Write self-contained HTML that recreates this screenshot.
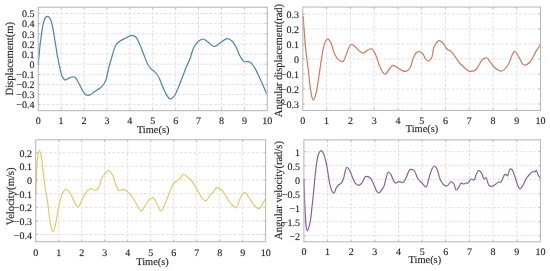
<!DOCTYPE html><html><head><meta charset="utf-8"><style>html,body{margin:0;padding:0;background:#fff;width:550px;height:271px;overflow:hidden}svg{display:block}text{text-rendering:geometricPrecision;stroke:#262626;stroke-width:0.3px;stroke-opacity:0.45}</style></head><body>
<svg width="550" height="271" viewBox="0 0 550 271" font-family='"Liberation Serif", "Times New Roman", serif'>
<rect width="550" height="271" fill="#fff"/>
<path d="M61.11,7.20V110.70M84.02,7.20V110.70M106.93,7.20V110.70M129.84,7.20V110.70M152.75,7.20V110.70M175.66,7.20V110.70M198.57,7.20V110.70M221.48,7.20V110.70M244.39,7.20V110.70M38.20,13.55H267.30M38.20,23.68H267.30M38.20,33.81H267.30M38.20,43.94H267.30M38.20,54.07H267.30M38.20,64.20H267.30M38.20,74.33H267.30M38.20,84.46H267.30M38.20,94.59H267.30M38.20,104.72H267.30" stroke="#e0e0e0" stroke-width="1" stroke-dasharray="2.9,1.6" fill="none"/>
<path d="M61.11,110.70v-2M61.11,7.20v2M84.02,110.70v-2M84.02,7.20v2M106.93,110.70v-2M106.93,7.20v2M129.84,110.70v-2M129.84,7.20v2M152.75,110.70v-2M152.75,7.20v2M175.66,110.70v-2M175.66,7.20v2M198.57,110.70v-2M198.57,7.20v2M221.48,110.70v-2M221.48,7.20v2M244.39,110.70v-2M244.39,7.20v2M38.20,13.55h2M267.30,13.55h-2M38.20,23.68h2M267.30,23.68h-2M38.20,33.81h2M267.30,33.81h-2M38.20,43.94h2M267.30,43.94h-2M38.20,54.07h2M267.30,54.07h-2M38.20,64.20h2M267.30,64.20h-2M38.20,74.33h2M267.30,74.33h-2M38.20,84.46h2M267.30,84.46h-2M38.20,94.59h2M267.30,94.59h-2M38.20,104.72h2M267.30,104.72h-2" stroke="#b4b4b4" stroke-width="0.8" fill="none"/>
<path d="M38.30,64.30 C38.73,59.33 39.10,54.19 39.60,49.40 C40.07,44.91 40.60,40.62 41.20,36.40 C41.77,32.37 42.26,28.01 43.10,24.60 C43.77,21.90 44.38,18.80 45.50,17.50 C46.16,16.73 47.06,16.19 47.80,16.30 C48.64,16.43 49.52,17.54 50.20,18.70 C51.29,20.55 51.88,23.85 52.60,27.00 C53.53,31.04 54.22,36.31 55.00,41.00 C55.79,45.74 56.48,50.76 57.30,55.30 C58.05,59.46 58.85,63.54 59.70,67.20 C60.43,70.37 60.90,73.72 62.00,76.00 C62.82,77.69 63.87,79.72 65.00,80.00 C65.92,80.23 66.92,79.07 68.00,78.60 C69.23,78.07 70.74,77.20 72.00,77.00 C73.05,76.83 74.16,76.74 75.00,77.20 C75.93,77.71 76.51,79.09 77.20,80.20 C77.98,81.46 78.59,82.84 79.40,84.40 C80.41,86.35 81.64,89.21 82.80,91.00 C83.69,92.37 84.54,93.71 85.50,94.40 C86.20,94.91 86.91,95.15 87.70,95.20 C88.57,95.26 89.58,95.02 90.50,94.60 C91.61,94.09 92.69,92.89 93.80,92.10 C94.89,91.33 95.99,90.63 97.10,89.90 C98.22,89.16 99.47,88.53 100.50,87.70 C101.50,86.89 102.39,86.04 103.20,85.00 C104.08,83.87 104.87,82.56 105.50,81.10 C106.21,79.44 106.65,77.37 107.10,75.50 C107.54,73.67 107.70,72.09 108.20,70.00 C108.88,67.15 109.88,63.66 111.00,60.00 C112.38,55.49 113.98,48.27 116.00,45.00 C117.21,43.05 118.43,42.13 120.00,41.00 C121.71,39.76 124.04,38.95 126.00,38.00 C127.87,37.09 129.75,35.45 131.50,35.40 C133.06,35.35 134.73,36.04 136.00,37.20 C137.66,38.71 138.60,41.97 139.80,44.60 C141.11,47.47 142.28,50.73 143.50,53.80 C144.72,56.86 145.74,60.37 147.10,63.00 C148.22,65.17 149.44,67.10 150.80,68.60 C151.94,69.86 153.37,70.52 154.50,71.60 C155.60,72.66 156.62,73.69 157.50,75.00 C158.48,76.45 159.15,78.11 160.00,80.00 C161.07,82.38 162.15,85.62 163.30,88.20 C164.36,90.57 165.37,93.00 166.60,94.90 C167.64,96.50 168.76,98.73 170.00,99.00 C171.03,99.22 172.32,98.32 173.30,97.40 C174.62,96.16 175.56,93.74 176.60,91.60 C177.81,89.12 178.90,86.07 180.00,83.30 C181.10,80.54 182.12,77.77 183.20,75.00 C184.29,72.21 185.36,69.32 186.50,66.60 C187.60,63.99 188.78,61.85 189.90,59.00 C191.28,55.48 192.21,50.19 194.00,47.00 C195.41,44.50 197.28,42.36 199.00,41.00 C200.30,39.97 201.61,38.95 203.00,39.00 C204.59,39.06 206.29,40.85 208.00,42.00 C209.94,43.31 211.96,46.38 214.00,46.50 C215.96,46.61 217.93,44.25 220.00,43.00 C222.25,41.63 224.83,38.72 227.00,38.60 C228.78,38.50 230.57,39.75 232.00,41.00 C233.64,42.42 234.76,44.74 236.00,47.00 C237.45,49.64 238.51,53.45 240.00,56.00 C241.23,58.11 242.27,60.42 244.00,61.40 C245.64,62.33 248.31,61.09 250.00,62.00 C251.82,62.98 252.94,65.15 254.40,67.40 C256.42,70.53 258.46,75.26 260.40,79.40 C262.43,83.74 264.33,88.40 266.30,92.90" stroke="#4686ab" stroke-width="1.2" fill="none" stroke-linejoin="round" stroke-linecap="round"/>
<rect x="38.20" y="7.20" width="229.10" height="103.50" stroke="#b4b4b4" stroke-width="1" fill="none"/>
<g font-size="10" fill="#262626"><text x="38.20" y="124.20" text-anchor="middle">0</text><text x="61.11" y="124.20" text-anchor="middle">1</text><text x="84.02" y="124.20" text-anchor="middle">2</text><text x="106.93" y="124.20" text-anchor="middle">3</text><text x="129.84" y="124.20" text-anchor="middle">4</text><text x="152.75" y="124.20" text-anchor="middle">5</text><text x="175.66" y="124.20" text-anchor="middle">6</text><text x="198.57" y="124.20" text-anchor="middle">7</text><text x="221.48" y="124.20" text-anchor="middle">8</text><text x="244.39" y="124.20" text-anchor="middle">9</text><text x="267.30" y="124.20" text-anchor="middle">10</text><text x="34.40" y="17.25" text-anchor="end">0.5</text><text x="34.40" y="27.38" text-anchor="end">0.4</text><text x="34.40" y="37.51" text-anchor="end">0.3</text><text x="34.40" y="47.64" text-anchor="end">0.2</text><text x="34.40" y="57.77" text-anchor="end">0.1</text><text x="34.40" y="67.90" text-anchor="end">0</text><text x="34.40" y="78.03" text-anchor="end">−0.1</text><text x="34.40" y="88.16" text-anchor="end">−0.2</text><text x="34.40" y="98.29" text-anchor="end">−0.3</text><text x="34.40" y="108.42" text-anchor="end">−0.4</text></g>
<text x="153.15" y="133.10" font-size="10.4" text-anchor="middle" fill="#262626">Time(s)</text>
<text transform="translate(13.00,58.75) rotate(-90) scale(0.955,1)" x="0" y="0" font-size="11.10" text-anchor="middle" fill="#262626">Displacement(m)</text>
<path d="M326.62,7.05V110.40M350.39,7.05V110.40M374.16,7.05V110.40M397.93,7.05V110.40M421.70,7.05V110.40M445.47,7.05V110.40M469.24,7.05V110.40M493.01,7.05V110.40M516.78,7.05V110.40M302.85,14.00H540.55M302.85,29.00H540.55M302.85,44.00H540.55M302.85,59.00H540.55M302.85,74.00H540.55M302.85,89.00H540.55M302.85,104.00H540.55" stroke="#e0e0e0" stroke-width="1" stroke-dasharray="2.9,1.6" fill="none"/>
<path d="M326.62,110.40v-2M326.62,7.05v2M350.39,110.40v-2M350.39,7.05v2M374.16,110.40v-2M374.16,7.05v2M397.93,110.40v-2M397.93,7.05v2M421.70,110.40v-2M421.70,7.05v2M445.47,110.40v-2M445.47,7.05v2M469.24,110.40v-2M469.24,7.05v2M493.01,110.40v-2M493.01,7.05v2M516.78,110.40v-2M516.78,7.05v2M302.85,14.00h2M540.55,14.00h-2M302.85,29.00h2M540.55,29.00h-2M302.85,44.00h2M540.55,44.00h-2M302.85,59.00h2M540.55,59.00h-2M302.85,74.00h2M540.55,74.00h-2M302.85,89.00h2M540.55,89.00h-2M302.85,104.00h2M540.55,104.00h-2" stroke="#b4b4b4" stroke-width="0.8" fill="none"/>
<path d="M303.20,16.50 C303.43,19.87 303.66,23.15 303.90,26.60 C304.16,30.21 304.38,33.86 304.70,37.70 C305.04,41.84 305.48,46.64 305.90,50.60 C306.26,53.98 306.60,56.84 307.00,60.00 C307.40,63.23 307.85,66.10 308.30,69.80 C308.88,74.61 309.40,81.44 310.10,86.40 C310.67,90.45 311.24,94.97 312.00,97.40 C312.40,98.68 312.81,100.21 313.30,100.20 C313.99,100.19 314.99,97.06 315.70,94.70 C316.86,90.86 317.66,84.16 318.50,79.00 C319.32,74.00 320.05,68.55 320.70,64.20 C321.22,60.77 321.51,58.20 322.10,55.00 C322.75,51.46 323.33,46.80 324.50,43.90 C325.34,41.82 326.49,38.98 327.60,38.90 C328.66,38.83 330.00,41.18 331.00,43.00 C332.48,45.68 333.16,51.02 334.60,54.00 C335.70,56.27 336.76,58.36 338.30,59.60 C339.64,60.67 341.79,61.88 343.00,61.40 C344.33,60.88 344.84,57.89 345.70,55.90 C346.68,53.64 347.45,50.56 348.50,48.50 C349.33,46.88 350.07,44.67 351.20,44.40 C352.26,44.15 353.74,45.63 355.00,46.60 C356.54,47.78 358.06,50.08 359.60,51.20 C360.83,52.10 362.02,53.18 363.30,53.10 C364.77,53.01 366.40,50.73 367.90,50.00 C369.16,49.39 370.49,48.43 371.60,48.80 C373.03,49.27 374.19,51.89 375.30,54.00 C376.75,56.75 377.71,61.04 379.00,64.20 C380.15,67.03 381.24,70.37 382.60,72.10 C383.47,73.21 384.47,74.42 385.40,74.30 C386.61,74.14 387.72,71.00 389.00,69.50 C390.25,68.04 391.49,65.64 393.00,65.40 C394.50,65.16 396.44,67.11 398.00,68.00 C399.42,68.81 400.62,69.93 402.00,70.50 C403.29,71.03 404.74,71.71 406.00,71.40 C407.43,71.05 408.92,69.60 410.00,68.00 C411.45,65.85 411.90,61.66 413.00,59.00 C413.93,56.76 414.75,54.22 416.00,53.00 C416.88,52.15 417.94,51.55 419.00,51.60 C420.25,51.67 422.00,52.92 423.00,54.00 C423.98,55.06 424.15,56.82 425.00,58.00 C425.83,59.15 426.93,60.95 428.00,61.00 C429.12,61.05 430.67,59.54 431.60,58.00 C433.04,55.62 432.57,50.04 434.00,47.00 C435.21,44.42 437.28,40.92 439.00,40.60 C440.30,40.36 441.78,41.84 443.00,43.00 C444.51,44.44 445.49,47.56 447.00,49.00 C448.22,50.16 449.83,50.40 451.00,51.40 C452.17,52.40 453.13,53.83 454.00,55.00 C454.77,56.02 455.21,56.86 456.00,58.00 C457.09,59.57 458.49,61.83 460.00,63.50 C461.50,65.16 463.41,66.65 465.00,68.00 C466.39,69.18 467.43,70.78 469.00,71.20 C470.71,71.66 473.35,71.28 475.00,70.30 C476.72,69.28 477.76,66.81 479.00,65.00 C480.22,63.21 480.92,60.66 482.40,59.50 C483.68,58.50 485.74,57.60 487.00,58.00 C488.28,58.40 488.92,60.60 490.00,62.00 C491.23,63.58 492.57,65.62 494.00,67.00 C495.26,68.22 496.60,69.33 498.00,70.00 C499.28,70.61 500.64,71.38 502.00,71.00 C503.95,70.46 506.16,67.60 508.00,65.00 C510.45,61.53 512.36,51.61 514.50,51.40 C516.01,51.25 517.49,55.26 519.00,57.40 C520.66,59.76 521.98,64.46 524.00,65.00 C525.74,65.47 528.22,63.69 530.00,62.00 C532.40,59.72 534.10,54.53 536.00,51.40 C537.57,48.83 539.00,46.80 540.50,44.50" stroke="#d27a58" stroke-width="1.2" fill="none" stroke-linejoin="round" stroke-linecap="round"/>
<rect x="302.85" y="7.05" width="237.70" height="103.35" stroke="#b4b4b4" stroke-width="1" fill="none"/>
<g font-size="10" fill="#262626"><text x="302.85" y="123.90" text-anchor="middle">0</text><text x="326.62" y="123.90" text-anchor="middle">1</text><text x="350.39" y="123.90" text-anchor="middle">2</text><text x="374.16" y="123.90" text-anchor="middle">3</text><text x="397.93" y="123.90" text-anchor="middle">4</text><text x="421.70" y="123.90" text-anchor="middle">5</text><text x="445.47" y="123.90" text-anchor="middle">6</text><text x="469.24" y="123.90" text-anchor="middle">7</text><text x="493.01" y="123.90" text-anchor="middle">8</text><text x="516.78" y="123.90" text-anchor="middle">9</text><text x="540.55" y="123.90" text-anchor="middle">10</text><text x="299.05" y="17.90" text-anchor="end">0.3</text><text x="299.05" y="32.90" text-anchor="end">0.2</text><text x="299.05" y="47.90" text-anchor="end">0.1</text><text x="299.05" y="62.90" text-anchor="end">0</text><text x="299.05" y="77.90" text-anchor="end">−0.1</text><text x="299.05" y="92.90" text-anchor="end">−0.2</text><text x="299.05" y="107.90" text-anchor="end">−0.3</text></g>
<text x="422.00" y="132.30" font-size="10.4" text-anchor="middle" fill="#262626">Time(s)</text>
<text transform="translate(282.30,60.55) rotate(-90) scale(0.955,1)" x="0" y="0" font-size="11.05" text-anchor="middle" fill="#262626">Angular displacement(rad)</text>
<path d="M58.74,139.80V241.70M81.73,139.80V241.70M104.72,139.80V241.70M127.71,139.80V241.70M150.70,139.80V241.70M173.69,139.80V241.70M196.68,139.80V241.70M219.67,139.80V241.70M242.66,139.80V241.70M35.75,152.72H265.65M35.75,166.36H265.65M35.75,180.00H265.65M35.75,193.64H265.65M35.75,207.28H265.65M35.75,220.92H265.65M35.75,234.56H265.65" stroke="#e0e0e0" stroke-width="1" stroke-dasharray="2.9,1.6" fill="none"/>
<path d="M58.74,241.70v-2M58.74,139.80v2M81.73,241.70v-2M81.73,139.80v2M104.72,241.70v-2M104.72,139.80v2M127.71,241.70v-2M127.71,139.80v2M150.70,241.70v-2M150.70,139.80v2M173.69,241.70v-2M173.69,139.80v2M196.68,241.70v-2M196.68,139.80v2M219.67,241.70v-2M219.67,139.80v2M242.66,241.70v-2M242.66,139.80v2M35.75,152.72h2M265.65,152.72h-2M35.75,166.36h2M265.65,166.36h-2M35.75,180.00h2M265.65,180.00h-2M35.75,193.64h2M265.65,193.64h-2M35.75,207.28h2M265.65,207.28h-2M35.75,220.92h2M265.65,220.92h-2M35.75,234.56h2M265.65,234.56h-2" stroke="#b4b4b4" stroke-width="0.8" fill="none"/>
<path d="M35.75,193.00 C35.90,189.00 36.03,185.08 36.20,181.00 C36.38,176.75 36.53,172.15 36.80,168.00 C37.04,164.18 37.17,160.20 37.70,157.00 C38.12,154.47 38.79,150.31 39.40,150.30 C39.99,150.29 40.76,154.03 41.30,156.60 C42.11,160.47 42.48,166.48 43.10,171.40 C43.71,176.28 44.25,180.82 45.00,186.00 C45.85,191.92 47.08,198.58 48.00,205.00 C48.95,211.57 49.45,220.09 50.60,225.00 C51.30,227.98 52.20,232.00 53.00,232.00 C53.80,232.00 54.63,227.97 55.40,225.00 C56.68,220.08 57.62,210.79 59.00,205.00 C60.09,200.46 61.03,195.72 62.60,193.00 C63.59,191.29 64.80,189.45 66.00,189.40 C67.26,189.35 68.80,191.42 70.00,193.00 C71.55,195.04 72.59,198.56 74.00,201.00 C75.27,203.19 76.70,207.04 78.00,207.00 C79.37,206.95 80.60,202.48 82.00,200.00 C83.58,197.19 85.15,192.92 87.00,191.00 C88.25,189.71 89.65,188.65 91.00,188.60 C92.32,188.55 93.72,190.77 95.00,190.60 C96.40,190.41 98.02,188.57 99.00,187.00 C100.14,185.17 100.10,182.08 101.00,180.00 C101.81,178.13 102.77,176.54 104.00,175.00 C105.28,173.39 107.13,170.51 108.60,170.60 C110.14,170.70 111.81,173.84 113.00,176.00 C114.38,178.52 114.88,182.40 116.00,185.00 C116.92,187.13 117.55,189.95 119.00,190.60 C120.30,191.18 122.40,189.09 124.00,189.40 C125.75,189.74 127.51,191.58 129.00,193.00 C130.52,194.44 131.74,196.14 133.00,198.00 C134.42,200.09 135.63,202.78 137.00,205.00 C138.30,207.10 139.62,210.94 141.00,211.00 C142.30,211.06 143.70,207.77 145.00,206.00 C146.38,204.12 147.49,201.44 149.00,200.00 C150.22,198.84 151.79,197.31 153.00,197.60 C154.54,197.97 155.69,201.81 157.00,204.00 C158.36,206.27 159.67,211.00 161.00,211.00 C162.33,211.00 163.75,206.59 165.00,204.00 C166.44,201.01 167.55,197.40 169.00,194.00 C170.54,190.40 171.93,185.46 174.00,183.00 C175.46,181.26 177.46,181.01 179.00,179.60 C180.69,178.06 182.10,174.17 183.60,174.00 C184.75,173.87 185.83,175.66 187.00,176.60 C188.29,177.64 189.76,178.60 191.00,180.00 C192.46,181.64 193.70,183.90 195.00,186.00 C196.37,188.22 197.75,190.87 199.00,193.00 C200.06,194.81 200.80,196.66 202.00,198.00 C203.07,199.19 204.48,200.96 205.70,200.80 C207.25,200.60 208.94,196.44 210.30,194.90 C211.25,193.82 211.97,193.32 212.90,192.30 C214.10,190.99 215.27,187.89 216.80,187.60 C218.31,187.32 220.53,189.15 222.00,190.50 C223.57,191.95 224.43,194.16 225.80,196.20 C227.39,198.58 229.08,201.88 231.00,203.90 C232.60,205.59 234.78,208.19 236.20,207.80 C237.95,207.32 238.53,201.40 240.00,198.70 C241.31,196.30 242.85,192.39 244.40,192.30 C245.86,192.21 247.48,195.54 249.00,197.50 C250.76,199.77 252.33,203.27 254.20,205.20 C255.68,206.73 257.46,208.83 258.90,208.60 C260.53,208.34 262.13,204.42 263.30,202.60 C264.21,201.19 264.77,200.00 265.50,198.70" stroke="#e2c96c" stroke-width="1.2" fill="none" stroke-linejoin="round" stroke-linecap="round"/>
<rect x="35.75" y="139.80" width="229.90" height="101.90" stroke="#b4b4b4" stroke-width="1" fill="none"/>
<g font-size="10" fill="#262626"><text x="35.75" y="256.00" text-anchor="middle">0</text><text x="58.74" y="256.00" text-anchor="middle">1</text><text x="81.73" y="256.00" text-anchor="middle">2</text><text x="104.72" y="256.00" text-anchor="middle">3</text><text x="127.71" y="256.00" text-anchor="middle">4</text><text x="150.70" y="256.00" text-anchor="middle">5</text><text x="173.69" y="256.00" text-anchor="middle">6</text><text x="196.68" y="256.00" text-anchor="middle">7</text><text x="219.67" y="256.00" text-anchor="middle">8</text><text x="242.66" y="256.00" text-anchor="middle">9</text><text x="265.65" y="256.00" text-anchor="middle">10</text><text x="31.95" y="156.72" text-anchor="end">0.2</text><text x="31.95" y="170.36" text-anchor="end">0.1</text><text x="31.95" y="184.00" text-anchor="end">0</text><text x="31.95" y="197.64" text-anchor="end">−0.1</text><text x="31.95" y="211.28" text-anchor="end">−0.2</text><text x="31.95" y="224.92" text-anchor="end">−0.3</text><text x="31.95" y="238.56" text-anchor="end">−0.4</text></g>
<text x="152.50" y="264.70" font-size="10.4" text-anchor="middle" fill="#262626">Time(s)</text>
<text transform="translate(13.60,196.40) rotate(-90) scale(0.955,1)" x="0" y="0" font-size="11.15" text-anchor="middle" fill="#262626">Velocity(m/s)</text>
<path d="M327.55,139.85V241.80M351.20,139.85V241.80M374.85,139.85V241.80M398.50,139.85V241.80M422.15,139.85V241.80M445.80,139.85V241.80M469.45,139.85V241.80M493.10,139.85V241.80M516.75,139.85V241.80M303.90,151.70H540.40M303.90,165.70H540.40M303.90,179.70H540.40M303.90,193.70H540.40M303.90,207.70H540.40M303.90,221.70H540.40M303.90,235.70H540.40" stroke="#e0e0e0" stroke-width="1" stroke-dasharray="2.9,1.6" fill="none"/>
<path d="M327.55,241.80v-2M327.55,139.85v2M351.20,241.80v-2M351.20,139.85v2M374.85,241.80v-2M374.85,139.85v2M398.50,241.80v-2M398.50,139.85v2M422.15,241.80v-2M422.15,139.85v2M445.80,241.80v-2M445.80,139.85v2M469.45,241.80v-2M469.45,139.85v2M493.10,241.80v-2M493.10,139.85v2M516.75,241.80v-2M516.75,139.85v2M303.90,151.70h2M540.40,151.70h-2M303.90,165.70h2M540.40,165.70h-2M303.90,179.70h2M540.40,179.70h-2M303.90,193.70h2M540.40,193.70h-2M303.90,207.70h2M540.40,207.70h-2M303.90,221.70h2M540.40,221.70h-2M303.90,235.70h2M540.40,235.70h-2" stroke="#b4b4b4" stroke-width="0.8" fill="none"/>
<path d="M303.90,179.00 C304.13,186.00 304.34,193.59 304.60,200.00 C304.82,205.42 305.01,210.28 305.30,215.00 C305.56,219.22 305.72,224.13 306.20,227.00 C306.47,228.64 306.76,230.74 307.20,230.80 C307.56,230.85 308.09,229.55 308.50,228.50 C309.24,226.60 309.95,223.15 310.50,220.00 C311.17,216.14 311.52,211.25 312.00,207.00 C312.46,202.92 312.84,199.51 313.30,195.00 C313.89,189.18 314.52,181.07 315.20,175.00 C315.77,169.91 316.25,165.00 317.00,161.00 C317.58,157.94 318.08,154.82 319.00,153.00 C319.57,151.88 320.31,150.64 321.00,150.60 C321.65,150.56 322.42,151.61 323.00,152.50 C323.85,153.79 324.39,155.92 325.00,158.00 C325.76,160.61 326.34,163.59 327.00,167.00 C327.85,171.44 328.57,178.10 329.50,182.40 C330.18,185.55 330.71,188.62 331.70,190.50 C332.33,191.70 333.23,193.19 333.90,193.10 C334.73,192.99 335.31,189.72 336.10,188.30 C336.79,187.07 337.40,185.88 338.30,185.00 C339.15,184.17 340.47,184.01 341.30,183.10 C342.27,182.02 342.87,180.44 343.50,178.70 C344.32,176.43 344.68,172.57 345.40,170.50 C345.86,169.16 346.23,167.42 346.90,167.30 C347.57,167.18 348.63,168.64 349.40,169.80 C350.55,171.54 351.37,174.89 352.40,177.20 C353.34,179.30 354.13,181.70 355.30,183.10 C356.18,184.15 357.28,185.22 358.30,185.30 C359.25,185.37 360.39,184.57 361.20,183.80 C362.13,182.92 362.66,181.32 363.40,180.10 C364.13,178.89 364.62,176.97 365.60,176.50 C366.43,176.11 367.72,176.52 368.60,176.90 C369.45,177.27 370.10,177.83 370.80,178.70 C371.87,180.03 372.84,182.56 373.80,184.60 C374.81,186.72 375.61,189.76 376.70,191.20 C377.38,192.10 378.18,193.05 378.90,193.00 C379.68,192.94 380.44,191.44 381.20,190.50 C382.08,189.41 383.06,188.41 383.80,186.80 C384.90,184.42 385.39,179.89 386.30,177.20 C386.99,175.17 387.62,172.17 388.50,172.00 C389.15,171.87 390.00,173.18 390.70,174.20 C391.78,175.76 392.62,179.34 393.70,180.90 C394.40,181.92 395.08,182.99 395.90,183.10 C396.72,183.21 397.69,181.74 398.60,181.60 C399.43,181.47 400.32,181.96 401.10,182.10 C401.78,182.22 402.38,182.67 403.00,182.40 C404.03,181.95 405.00,179.75 406.00,178.00 C407.33,175.69 408.26,170.47 410.00,169.60 C411.15,169.02 412.85,169.49 414.00,170.40 C415.76,171.78 416.44,176.78 418.00,179.00 C419.20,180.72 420.67,181.67 422.00,183.00 C423.33,184.33 424.91,187.26 426.00,187.00 C427.41,186.67 428.00,181.00 429.00,178.00 C430.00,175.00 430.84,171.13 432.00,169.00 C432.74,167.65 433.57,166.02 434.40,166.00 C435.24,165.98 436.23,167.60 437.00,169.00 C438.25,171.27 438.81,176.30 440.00,179.00 C440.89,181.02 441.72,182.82 443.00,184.00 C444.12,185.04 445.75,186.23 447.00,186.00 C448.44,185.73 449.72,181.70 451.00,181.60 C452.03,181.52 453.21,182.87 454.00,184.00 C455.01,185.45 455.03,189.77 456.00,190.00 C456.80,190.19 458.17,188.15 459.00,187.00 C459.85,185.82 460.09,183.35 461.00,183.00 C461.72,182.72 462.75,184.01 463.60,184.00 C464.42,183.99 465.22,183.16 466.00,183.00 C466.68,182.86 467.35,183.33 468.00,183.00 C469.03,182.48 469.86,179.36 471.00,179.00 C471.91,178.72 473.18,180.38 474.00,180.00 C475.17,179.46 475.47,175.71 476.40,174.00 C477.18,172.57 478.08,170.33 479.00,170.30 C479.94,170.27 481.18,172.60 482.00,174.00 C482.87,175.48 483.15,178.76 484.00,179.00 C484.58,179.16 485.38,177.32 486.00,177.50 C487.15,177.84 487.59,184.22 489.00,185.50 C489.85,186.27 490.96,186.44 492.00,186.30 C493.27,186.13 494.77,184.76 496.00,184.00 C497.08,183.33 498.06,182.28 499.00,182.00 C499.70,181.79 500.38,182.40 501.00,182.00 C502.17,181.25 502.89,176.73 504.00,175.50 C504.63,174.80 505.41,174.21 506.00,174.30 C506.58,174.39 507.01,176.09 507.50,176.00 C508.38,175.83 508.86,169.49 510.00,169.00 C510.66,168.71 511.62,169.29 512.30,170.00 C513.47,171.22 514.11,174.51 515.00,177.00 C516.01,179.80 516.95,183.85 518.00,186.00 C518.65,187.32 519.25,188.98 520.00,189.00 C520.88,189.02 522.06,186.52 523.00,185.00 C524.08,183.24 524.82,180.85 526.00,179.00 C527.16,177.19 528.70,175.33 530.00,174.00 C531.02,172.96 532.05,171.72 533.00,171.50 C533.69,171.34 534.47,172.20 535.00,172.00 C535.54,171.80 535.79,170.26 536.20,170.30 C536.84,170.37 537.51,173.70 538.20,175.00 C538.72,175.99 539.27,176.67 539.80,177.50" stroke="#87609b" stroke-width="1.2" fill="none" stroke-linejoin="round" stroke-linecap="round"/>
<rect x="303.90" y="139.85" width="236.50" height="101.95" stroke="#b4b4b4" stroke-width="1" fill="none"/>
<g font-size="10" fill="#262626"><text x="303.90" y="254.80" text-anchor="middle">0</text><text x="327.55" y="254.80" text-anchor="middle">1</text><text x="351.20" y="254.80" text-anchor="middle">2</text><text x="374.85" y="254.80" text-anchor="middle">3</text><text x="398.50" y="254.80" text-anchor="middle">4</text><text x="422.15" y="254.80" text-anchor="middle">5</text><text x="445.80" y="254.80" text-anchor="middle">6</text><text x="469.45" y="254.80" text-anchor="middle">7</text><text x="493.10" y="254.80" text-anchor="middle">8</text><text x="516.75" y="254.80" text-anchor="middle">9</text><text x="540.40" y="254.80" text-anchor="middle">10</text><text x="300.10" y="155.80" text-anchor="end">1</text><text x="300.10" y="169.80" text-anchor="end">0.5</text><text x="300.10" y="183.80" text-anchor="end">0</text><text x="300.10" y="197.80" text-anchor="end">−0.5</text><text x="300.10" y="211.80" text-anchor="end">−1</text><text x="300.10" y="225.80" text-anchor="end">−1.5</text><text x="300.10" y="239.80" text-anchor="end">−2</text></g>
<text x="424.85" y="262.60" font-size="10.4" text-anchor="middle" fill="#262626">Time(s)</text>
<text transform="translate(281.80,190.45) rotate(-90) scale(0.955,1)" x="0" y="0" font-size="11.05" text-anchor="middle" fill="#262626">Angular velocity(rad/s)</text>
</svg></body></html>
